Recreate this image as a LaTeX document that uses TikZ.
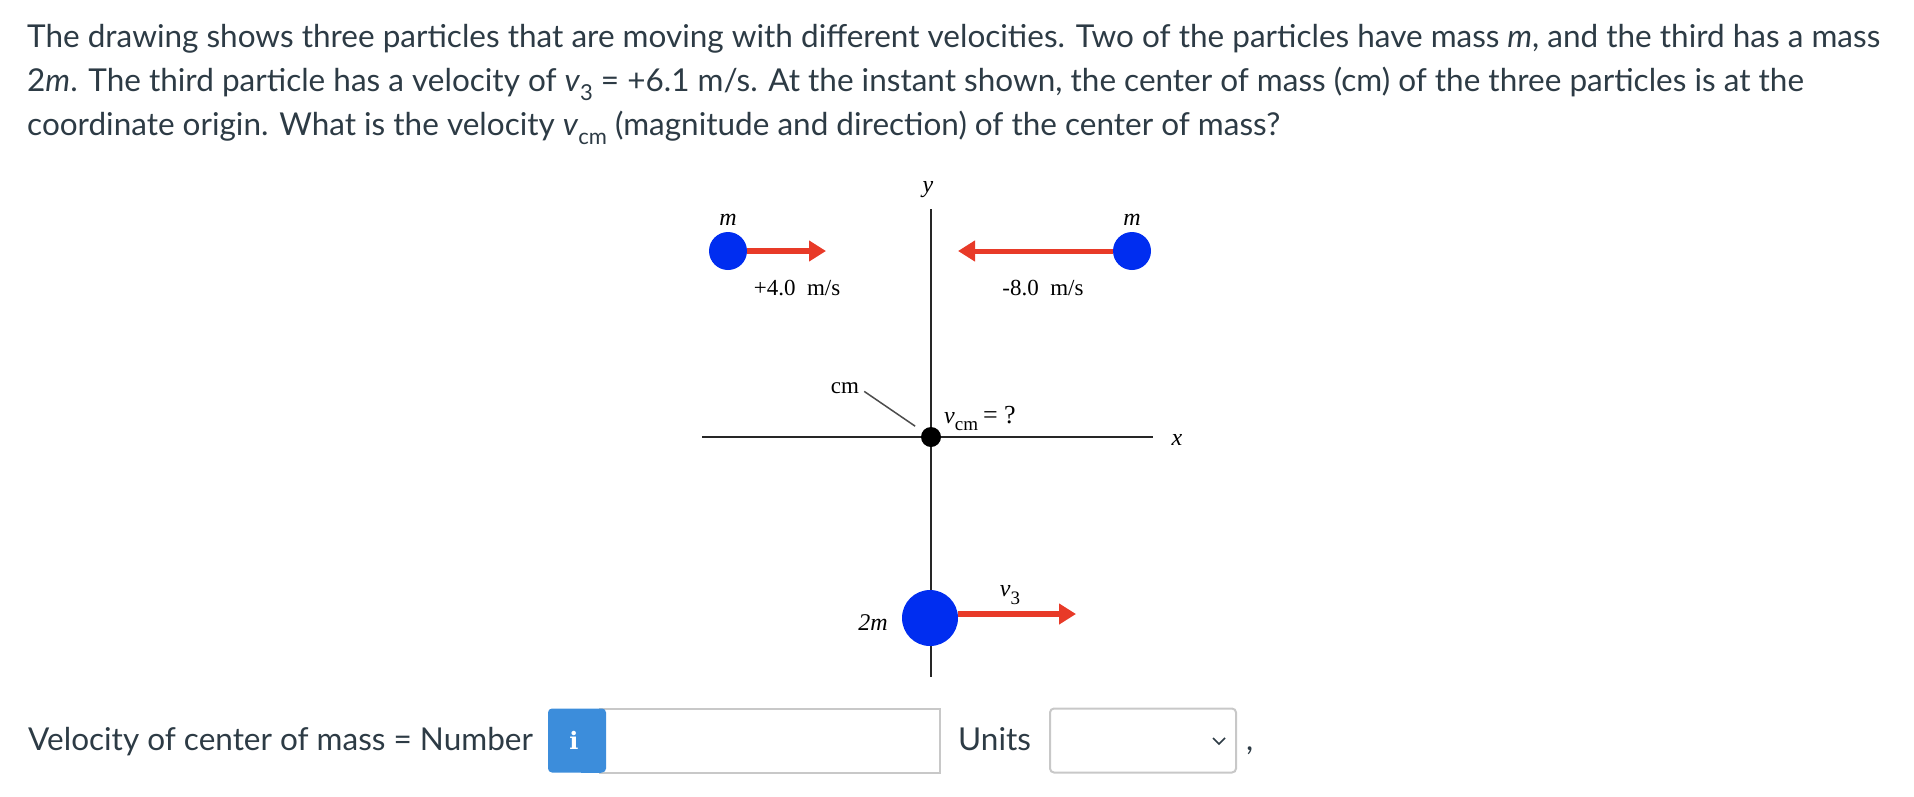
\documentclass[tikz,border=0pt]{standalone}
\usepackage[no-math]{fontspec}
\setmainfont{Lato}
\newfontfamily\diagfont{Liberation Serif}
\newfontfamily\iconfont{DejaVu Serif}
\usetikzlibrary{arrows.meta}
\definecolor{txt}{HTML}{2D3B45}
\definecolor{ballblue}{RGB}{0,45,240}
\definecolor{arrred}{RGB}{232,58,40}
\definecolor{infoblue}{HTML}{3C8DDB}
\definecolor{boxgray}{HTML}{C8C8C8}
\newcommand\mysub[1]{\raisebox{-0.3em}{\fontsize{22}{22}\selectfont #1}}
\newcommand\dsub[1]{\raisebox{-0.3em}{\fontsize{19}{19}\selectfont\upshape #1}}
\begin{document}
\begin{tikzpicture}[x=1pt,y=-1pt,
  para/.style={anchor=base west,inner sep=0,text=txt,font=\fontsize{31.5}{44}\selectfont},
  lbl/.style={inner sep=0,text=black,font=\diagfont\fontsize{23}{23}\selectfont},
  ilbl/.style={lbl,font=\diagfont\itshape\fontsize{24}{24}\selectfont},
  ball/.style={circle,fill=ballblue,inner sep=0},
  vel/.style={draw=arrred,line width=6pt,-{Triangle[length=17pt,width=20pt]}},
  axis/.style={draw=black!85,line width=2pt},
  uibox/.style={draw=boxgray,line width=2pt,fill=white,inner sep=0}]
\useasboundingbox (0,0) rectangle (1914,796);
% question text
\node[para] (l1) at (27,47) {The drawing shows three particles that are moving with different velocities. Two of the particles have mass \textit{m}, and the third has a mass};
\node[para] (l2) at (27,91) {2\textit{m}. The third particle has a velocity of \textit{v}\mysub{3} = +6.1 m/s. At the instant shown, the center of mass (cm) of the three particles is at the};
\node[para] (l3) at (27,135) {coordinate origin. What is the velocity \textit{v}\mysub{cm} (magnitude and direction) of the center of mass?};
% axes
\coordinate (ytop) at (931,209);
\coordinate (ybot) at (931,677);
\coordinate (xl) at (702,437);
\coordinate (xr) at (1153,437);
\draw[axis] (ytop) -- (ybot);
\draw[axis] (xl) -- (xr);
\node[ilbl] (ylab) at (928,190) {y};
\node[ilbl] (xlab) at (1177,440) {x};
% cm
\node[circle,fill=black,minimum size=20pt,inner sep=0] (cm) at (931,437) {};
\node[lbl] (cml) at (845,388) {cm};
\draw[black!70,line width=1.5pt,shorten <=6pt,shorten >=9pt] (cml.east) -- (cm);
\node[ilbl,anchor=base west] (vcm) at (944,423) {v\dsub{cm}\upshape{\fontsize{26}{26}\selectfont\kern5pt= ?}};
% particle 1
\node[ball,minimum size=38pt] (b1) at (728,251) {};
\node[ilbl] (m1) at (728,220) {m};
\coordinate (t1) at (826,251);
\draw[vel] (b1.east) -- (t1);
\node[lbl] (v1) at (797,288) {+4.0\ \ m/s};
% particle 2
\node[ball,minimum size=38pt] (b2) at (1132,251) {};
\node[ilbl] (m2) at (1132,220) {m};
\coordinate (t2) at (958,251);
\draw[vel,line width=5pt] (b2.west) -- (t2);
\node[lbl] (v2) at (1043,288) {-8.0\ \ m/s};
% particle 3
\node[ball,minimum size=56pt] (b3) at (930,618) {};
\node[ilbl] (m3) at (873,623) {2m};
\coordinate (t3) at (1076,614);
\draw[vel] (b3.east) ++(0,-4) -- (t3);
\node[ilbl] (v3) at (1010,595) {v\dsub{3}};
% answer row
\node[para,anchor=base west] (vel) at (28,750) {Velocity of center of mass = Number};
\node[uibox,minimum width=340pt,minimum height=64pt] (inp) at (770,740.5) {};
\fill[infoblue,rounded corners=4pt] (548,708.5) rectangle (606,772.5);
\node[fill=infoblue,minimum width=20pt,minimum height=64pt,inner sep=0] (infor) at (591,740.5) {};
\node[text=white,inner sep=0,font=\iconfont\bfseries\fontsize{24}{24}\selectfont] (info) at (574,740) {i};
\node[para] (units) at (958,750) {Units};
\node[uibox,rounded corners=4pt,minimum width=186pt,minimum height=64pt] (sel) at (1143,740.5) {};
\draw[txt,line width=1.5pt] (1213,738) -- (1219,744) -- (1225,738);
\node[para] (comma) at (1246,750) {,};
\end{tikzpicture}
\end{document}
